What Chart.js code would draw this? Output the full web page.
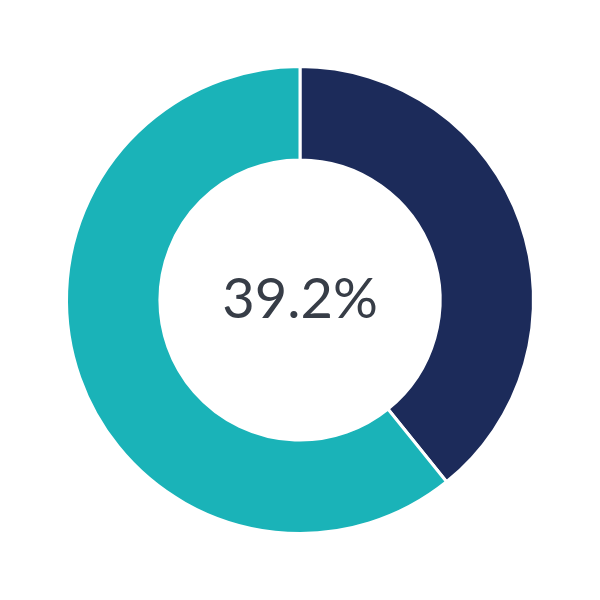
<!DOCTYPE html>
<html>
<head>
<meta charset="utf-8">
<script src="https://cdn.jsdelivr.net/npm/chart.js@4"></script>
<style>
  html, body { margin: 0; padding: 0; background: #fff; }
  #wrap { width: 600px; height: 600px; }
</style>
</head>
<body>
<div id="wrap"><canvas id="chart1"></canvas></div>
<script>
const labels = ["Share", "Rest"];
const values = [39.2, 60.8];
const colors = ["#1c2b5a", "#1ab3b8"];
const centerLabel = "39.2%";

const centerText = {
  id: 'centerText',
  afterDraw(chart) {
    const { ctx, chartArea } = chart;
    const x = (chartArea.left + chartArea.right) / 2;
    const y = (chartArea.top + chartArea.bottom) / 2;
    ctx.save();
    ctx.font = '400 56px Lato';
    ctx.fillStyle = '#373d47';
    ctx.textAlign = 'center';
    ctx.textBaseline = 'middle';
    ctx.fillText(centerLabel, x, y);
    ctx.restore();
  }
};

new Chart(document.getElementById("chart1"), {
  type: 'doughnut',
  data: {
    labels: labels,
    datasets: [{
      data: values,
      backgroundColor: colors,
      borderColor: '#fff',
      borderWidth: 3
    }]
  },
  options: {
    responsive: true,
    maintainAspectRatio: false,
    animation: false,
    cutout: '60%',
    layout: { padding: 65 },
    plugins: {
      legend: { display: false },
      tooltip: { enabled: false }
    }
  },
  plugins: [centerText]
});
</script>
</body>
</html>
